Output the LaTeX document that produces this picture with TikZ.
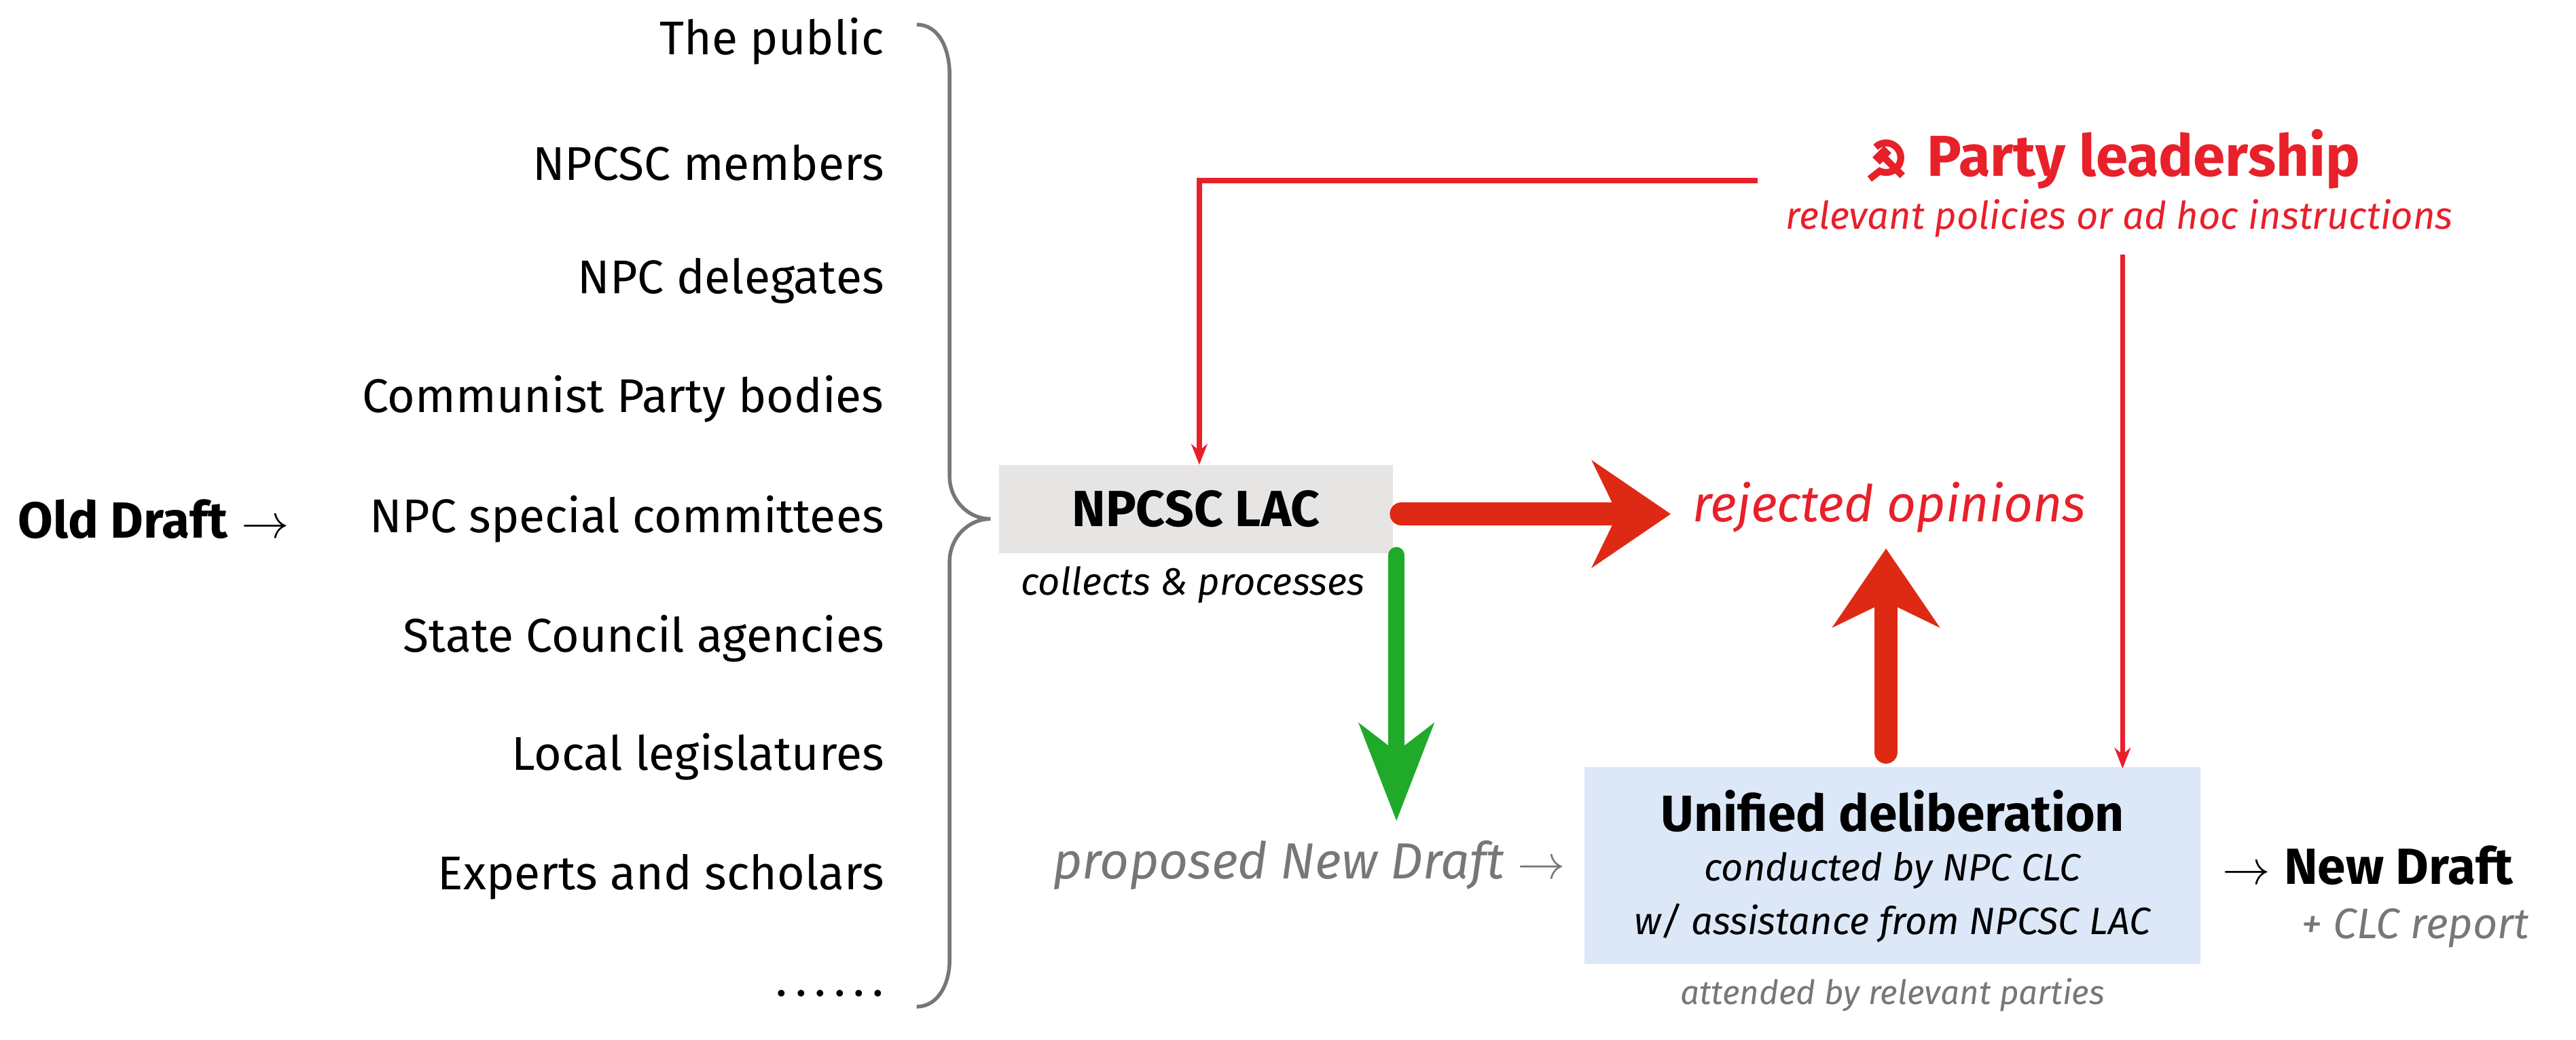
\documentclass[tikz,border=0pt]{standalone}
\usepackage{fontspec}
\setmainfont{Fira Sans}
\usetikzlibrary{arrows.meta}
\definecolor{pred}{HTML}{E8202A}
\definecolor{tred}{HTML}{DE2A14}
\definecolor{pgreen}{HTML}{20AA2A}
\definecolor{pgray}{HTML}{777777}
\definecolor{boxgray}{HTML}{E6E5E3}
\definecolor{boxblue}{HTML}{DCE8F8}
\newcommand{\arr}{\ensuremath{\rightarrow}}
\tikzset{
  lst/.style={anchor=east,font=\fontsize{20.5}{24}\selectfont},
  sm/.style={font=\fontsize{16.5}{19}\selectfont\itshape},
  thinred/.style={pred,line width=2.2pt,-{Stealth[length=9pt,width=7pt]}},
  thickred/.style={line width=10pt,line cap=round,-{Stealth[length=34pt,width=46pt,inset=11pt]}},
  thickgreen/.style={line width=7pt,line cap=round,-{Stealth[length=42pt,width=32pt,inset=12pt]}},
}
\begin{document}
\begin{tikzpicture}[x=0.025cm,y=-0.025cm]
\useasboundingbox (0,0) rectangle (1568,633);
\foreach \t/\yy [count=\i] in {The public/25,NPCSC members/99,NPC delegates/171,Communist Party bodies/243,NPC special committees/316,State Council agencies/389,Local legislatures/461,Experts and scholars/534,{.\,.\,.\,.\,.\,.}/605}
  \node[lst] (l\i) at (543,\yy) {\t};
\draw[pgray,line width=1.6pt] (558,15) to[out=0,in=90] (578,45) -- (578,290) to[out=-90,in=180] (603,316) to[out=180,in=90] (578,342) -- (578,585) to[out=-90,in=0] (558,613);
\node[anchor=west,font=\fontsize{22}{26}\selectfont] (old) at (6,316) {\textbf{Old Draft} \arr};
\node[fill=boxgray,minimum width=240*0.025cm,minimum height=54*0.025cm,font=\fontsize{22}{26}\selectfont\bfseries] (lac) at (728,310) {NPCSC LAC};
\node[sm] (cp) at (726,356) {collects \& processes};
\node[pred,font=\fontsize{22}{26}\selectfont\itshape] (rej) at (1150,309) {rejected opinions};
\node[pred,font=\fontsize{25}{29}\selectfont\bfseries,anchor=west] (pl) at (1168,97) {Party leadership};
% hammer and sickle
\begin{scope}[shift={(1148,96)},yscale=-1,pred]
  \draw[line width=3pt] (135:9) arc[start angle=135,end angle=-115,radius=9] -- (-10,-13);
  \draw[line width=3pt] (-2,1) -- (10,-11);
  \draw[line width=4.5pt] (-6,-2) -- (1,5);
\end{scope}
\node[pred,sm] (plsub) at (1290,133) {relevant policies or ad hoc instructions};
\node[fill=boxblue,minimum width=375*0.025cm,minimum height=120*0.025cm] (ud) at (1152,527) {};
\node[font=\fontsize{22}{26}\selectfont\bfseries] (udt) at (1152,494) {Unified deliberation};
\node[sm] (ud1) at (1152,530) {conducted by NPC CLC};
\node[sm] (ud2) at (1152,562) {w/ assistance from NPCSC LAC};
\node[pgray,font=\fontsize{14.5}{17}\selectfont\itshape] (att) at (1152,606) {attended by relevant parties};
\node[anchor=east,pgray,font=\fontsize{22}{26}\selectfont\itshape] (pnd) at (958,527) {proposed New Draft \arr};
\node[anchor=west,font=\fontsize{22}{26}\selectfont] (nd) at (1348,527) {\arr\ \textbf{New Draft}};
\node[pgray,font=\fontsize{18.5}{22}\selectfont\itshape] (clc) at (1470,565) {+ CLC report};
\coordinate (c1) at (1070,110);
\coordinate (c2) at (730,110);
\draw[thinred] (c1) -- (c2) -- (730,283);
\draw[thinred] (1292,155) -- (1292,468);
\draw[thickred,tred] (853,313) -- (1017,313);
\draw[thickgreen,pgreen] (850,338) -- (850,500);
\draw[thickred,tred] (1148,458) -- (1148,334);
\end{tikzpicture}
\end{document}
